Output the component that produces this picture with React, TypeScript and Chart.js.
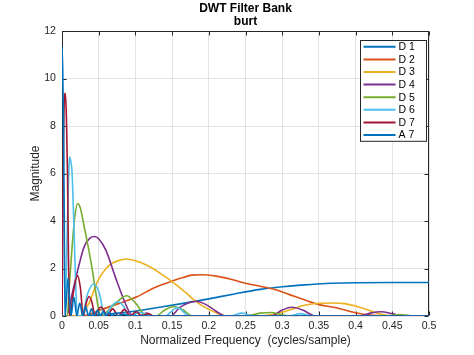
import React, { useEffect, useRef } from 'react';
import { Chart, registerables } from 'chart.js';

Chart.register(...registerables);

// ---- Data ----
const seriesNames = ['D 1', 'D 2', 'D 3', 'D 4', 'D 5', 'D 6', 'D 7', 'A 7'];
const seriesColors = ['#0072BD', '#D95319', '#EDB120', '#7E2F8E', '#77AC30', '#4DBEEE', '#A2142F', '#0072BD'];

const d1Freq = [0, 0.02, 0.05, 0.09, 0.133, 0.165, 0.2, 0.235, 0.27, 0.3, 0.33, 0.36, 0.4, 0.45, 0.5];
const d1Mag = [0, 0.01, 0.05, 0.17, 0.37, 0.53, 0.72, 0.93, 1.12, 1.23, 1.31, 1.37, 1.40, 1.41, 1.41];

const d2Freq = [0, 0.03, 0.04, 0.052, 0.075, 0.102, 0.125, 0.151, 0.165, 0.177, 0.19, 0.21, 0.23, 0.25, 0.27, 0.29, 0.31, 0.331, 0.35, 0.372, 0.4, 0.42, 0.44, 0.47, 0.5];
const d2Mag = [0, 0, 0.1, 0.25, 0.5, 0.81, 1.18, 1.48, 1.62, 1.72, 1.74, 1.68, 1.55, 1.38, 1.25, 1.12, 0.9, 0.67, 0.48, 0.36, 0.14, 0.04, 0.01, 0, 0];

const d3Freq = [0, 0.025, 0.03, 0.037, 0.045, 0.05, 0.06, 0.07, 0.08, 0.088, 0.1, 0.115, 0.125, 0.137, 0.15, 0.161, 0.17, 0.179, 0.19, 0.2, 0.213, 0.225, 0.265, 0.29, 0.31, 0.33, 0.35, 0.37, 0.385, 0.4, 0.415, 0.43, 0.445, 0.46, 0.5];
const d3Mag = [0, 0, 0.2, 0.55, 1.2, 1.55, 2.0, 2.25, 2.36, 2.4, 2.33, 2.15, 1.98, 1.73, 1.45, 1.18, 0.95, 0.7, 0.45, 0.28, 0.1, 0, 0, 0.08, 0.25, 0.45, 0.54, 0.55, 0.52, 0.42, 0.27, 0.12, 0.02, 0, 0];

const d4Freq = [0, 0.006, 0.015, 0.022, 0.03, 0.038, 0.0445, 0.05, 0.06, 0.072, 0.084, 0.092, 0.096, 0.105, 0.115, 0.125, 0.148, 0.16, 0.172, 0.183, 0.195, 0.21, 0.222, 0.285, 0.3, 0.313, 0.328, 0.345, 0.405, 0.42, 0.435, 0.45, 0.465, 0.5];
const d4Mag = [0, 0, 1.1, 2.0, 2.9, 3.28, 3.35, 3.25, 2.75, 1.7, 0.7, 0.15, 0, 0, 0.12, 0, 0, 0.35, 0.55, 0.62, 0.5, 0.2, 0, 0, 0.25, 0.37, 0.25, 0, 0, 0.12, 0.18, 0.1, 0, 0];

const d5Freq = [0, 0.007, 0.0105, 0.014, 0.0175, 0.0215, 0.025, 0.03, 0.037, 0.042, 0.0465, 0.05, 0.0525, 0.07, 0.088, 0.1, 0.115, 0.128, 0.14, 0.152, 0.165, 0.178, 0.25, 0.27, 0.285, 0.3, 0.31, 0.44, 0.46, 0.48, 0.5];
const d5Mag = [0, 0, 1.5, 3.0, 4.2, 4.74, 4.55, 3.8, 2.7, 1.8, 0.9, 0.25, 0, 0.45, 0.85, 0.55, 0, 0, 0.25, 0.4, 0.25, 0, 0, 0.12, 0.15, 0.05, 0, 0, 0.06, 0, 0];

const d6Freq = [0, 0.004, 0.006, 0.008, 0.0095, 0.0105, 0.012, 0.0136, 0.0155, 0.0175, 0.0195, 0.021, 0.027, 0.035, 0.043, 0.051, 0.058, 0.067, 0.076, 0.084, 0.091, 0.107, 0.123, 0.14, 0.157, 0.174, 0.23, 0.245, 0.26, 0.31, 0.325, 0.34, 0.5];
const d6Mag = [0, 0, 2.0, 4.8, 6.3, 6.7, 6.5, 6.1, 4.5, 2.5, 0.6, 0, 0, 0.95, 1.35, 0.95, 0, 0.4, 0.6, 0.4, 0, 0.15, 0, 0, 0.35, 0, 0, 0.12, 0, 0, 0.1, 0, 0];

const d7Freq = [0, 0.001, 0.002, 0.003, 0.0045, 0.006, 0.0075, 0.0088, 0.0098, 0.0108, 0.0155, 0.021, 0.025, 0.029, 0.033, 0.037, 0.041, 0.045, 0.049, 0.053, 0.057, 0.061, 0.069, 0.077, 0.085, 0.093, 0.101, 0.109, 0.117, 0.125, 0.5];
const d7Mag = [0, 3.5, 7.0, 9.0, 9.38, 8.4, 6.0, 2.5, 0.5, 0, 1.0, 1.7, 1.2, 0, 0.55, 0.82, 0.55, 0, 0.25, 0.38, 0.25, 0, 0.3, 0, 0.28, 0, 0.18, 0, 0.1, 0, 0];

const a7Freq = [0, 0.001, 0.002, 0.003, 0.0035, 0.0042, 0.0082, 0.0122, 0.0162, 0.0202, 0.0242, 0.0282, 0.0322, 0.0362, 0.0402, 0.0442, 0.0482, 0.0522, 0.0562, 0.0602, 0.0642, 0.0682, 0.0722, 0.0762, 0.0842, 0.0922, 0.5];
const a7Mag = [11.35, 10.3, 8.0, 4.5, 2.0, 0, 1.6, 0, 0.8, 0, 0.55, 0, 0.4, 0, 0.3, 0, 0.25, 0, 0.2, 0, 0.15, 0, 0.12, 0, 0.08, 0, 0];

const seriesFreqs = [d1Freq, d2Freq, d3Freq, d4Freq, d5Freq, d6Freq, d7Freq, a7Freq];
const seriesMags = [d1Mag, d2Mag, d3Mag, d4Mag, d5Mag, d6Mag, d7Mag, a7Mag];

const titleLines = ['DWT Filter Bank', 'burt'];
const xLabel = 'Normalized Frequency  (cycles/sample)';
const yLabel = 'Magnitude';
const xMin = 0, xMax = 0.5, xStep = 0.05;
const yMin = 0, yMax = 12, yStep = 2;

const FONT = "'Liberation Sans', Arial, Helvetica, sans-serif";
const AXIS_COLOR = '#262626';
const GRID_COLOR = '#e2e2e2';

const matlabPlugin = {
  id: 'matlabBox',
  beforeDatasetsDraw(chart: any) {
    const { ctx, chartArea } = chart;
    const { left, right, top, bottom } = chartArea;
    const L = Math.round(left) + 0.5;
    const R = Math.round(right) - 0.5;
    const T = Math.round(top) + 0.5;
    const B = Math.round(bottom) - 0.5;
    ctx.save();
    ctx.strokeStyle = AXIS_COLOR;
    ctx.lineWidth = 1;
    ctx.strokeRect(L, T, R - L, B - T);
    const tl = 4;
    ctx.beginPath();
    chart.scales.x.ticks.forEach((t: any) => {
      const px = Math.round(chart.scales.x.getPixelForValue(t.value)) + 0.5;
      ctx.moveTo(px, B); ctx.lineTo(px, B - tl);
      ctx.moveTo(px, T); ctx.lineTo(px, T + tl);
    });
    chart.scales.y.ticks.forEach((t: any) => {
      const py = Math.round(chart.scales.y.getPixelForValue(t.value)) + 0.5;
      ctx.moveTo(L, py); ctx.lineTo(L + tl, py);
      ctx.moveTo(R, py); ctx.lineTo(R - tl, py);
    });
    ctx.stroke();
    ctx.restore();
  },
  afterDatasetsDraw(chart: any) {
    const { ctx, chartArea } = chart;
    const { right, top } = chartArea;
    ctx.save();
    // Legend (MATLAB style, inside upper-right)
    const boxRight = Math.round(right) - 2.5;
    const boxLeft = boxRight - 66;
    const boxTop = Math.round(top) + 9.5;
    const rowH = 12.6;
    const boxH = rowH * seriesNames.length;
    ctx.fillStyle = '#ffffff';
    ctx.fillRect(boxLeft, boxTop, boxRight - boxLeft, boxH);
    ctx.strokeStyle = AXIS_COLOR;
    ctx.lineWidth = 1;
    ctx.strokeRect(boxLeft, boxTop, boxRight - boxLeft, boxH);
    ctx.font = `10.5px ${FONT}`;
    ctx.textBaseline = 'middle';
    ctx.textAlign = 'left';
    seriesNames.forEach((name, i) => {
      const cy = boxTop + 6.3 + i * rowH;
      ctx.strokeStyle = seriesColors[i];
      ctx.lineWidth = 2;
      ctx.beginPath();
      ctx.moveTo(boxLeft + 3, cy);
      ctx.lineTo(boxLeft + 35, cy);
      ctx.stroke();
      ctx.fillStyle = '#000000';
      ctx.fillText(name, boxLeft + 38, cy + 0.5);
    });
    ctx.restore();
  },
};

export default function App() {
  const canvasRef = useRef<HTMLCanvasElement | null>(null);

  useEffect(() => {
    document.body.style.margin = '0';
    const canvas = canvasRef.current;
    if (!canvas) return;

    const datasets = seriesNames.map((name, i) => ({
      label: name,
      data: seriesFreqs[i].map((f, j) => ({ x: f, y: seriesMags[i][j] })),
      borderColor: seriesColors[i],
      backgroundColor: seriesColors[i],
      borderWidth: 1.6,
      pointRadius: 0,
      fill: false,
      cubicInterpolationMode: 'monotone' as const,
      order: seriesNames.length - 1 - i,
    }));

    const chart = new Chart(canvas, {
      type: 'line',
      data: { datasets },
      plugins: [matlabPlugin],
      options: {
        animation: false,
        responsive: false,
        maintainAspectRatio: false,
        layout: { padding: { left: 0, right: 45, top: 0, bottom: 0 } },
        plugins: {
          legend: { display: false },
          tooltip: { enabled: false },
          title: {
            display: true,
            text: titleLines,
            fullSize: false,
            color: '#000000',
            font: { family: FONT, size: 12, weight: 'bold', lineHeight: 13 / 12 },
            padding: { top: 2, bottom: 3 },
          },
        },
        scales: {
          x: {
            type: 'linear',
            min: xMin,
            max: xMax,
            border: { display: false },
            grid: { color: GRID_COLOR, drawTicks: false, lineWidth: 1 },
            ticks: {
              stepSize: xStep,
              color: AXIS_COLOR,
              font: { family: FONT, size: 10.6 },
              padding: 4,
              maxRotation: 0,
              autoSkip: false,
              callback: (v: any) => String(Number(Number(v).toFixed(2))),
            },
            title: {
              display: true,
              text: xLabel,
              color: AXIS_COLOR,
              font: { family: FONT, size: 12 },
              padding: { top: 0, bottom: 7 },
            },
            afterFit: (scale: any) => {
              scale.height = 39;
              scale.paddingLeft = 0;
              scale.paddingRight = 0;
              scale.paddingTop = 0;
              scale.paddingBottom = 0;
            },
          },
          y: {
            type: 'linear',
            min: yMin,
            max: yMax,
            border: { display: false },
            grid: { color: GRID_COLOR, drawTicks: false, lineWidth: 1 },
            ticks: {
              stepSize: yStep,
              color: AXIS_COLOR,
              font: { family: FONT, size: 10.6 },
              padding: 6,
            },
            title: {
              display: true,
              text: yLabel,
              color: AXIS_COLOR,
              font: { family: FONT, size: 12 },
              padding: { top: 28, bottom: 0 },
            },
            afterFit: (scale: any) => {
              scale.width = 62;
              scale.paddingLeft = 0;
              scale.paddingRight = 0;
              scale.paddingTop = 0;
              scale.paddingBottom = 0;
            },
          },
        },
      },
    });

    return () => {
      chart.destroy();
    };
  }, []);

  return (
    <div style={{ position: 'fixed', left: 0, top: 0, width: 474, height: 355, background: '#ffffff' }}>
      <canvas ref={canvasRef} width={474} height={355} style={{ display: 'block', width: 474, height: 355 }} />
    </div>
  );
}
